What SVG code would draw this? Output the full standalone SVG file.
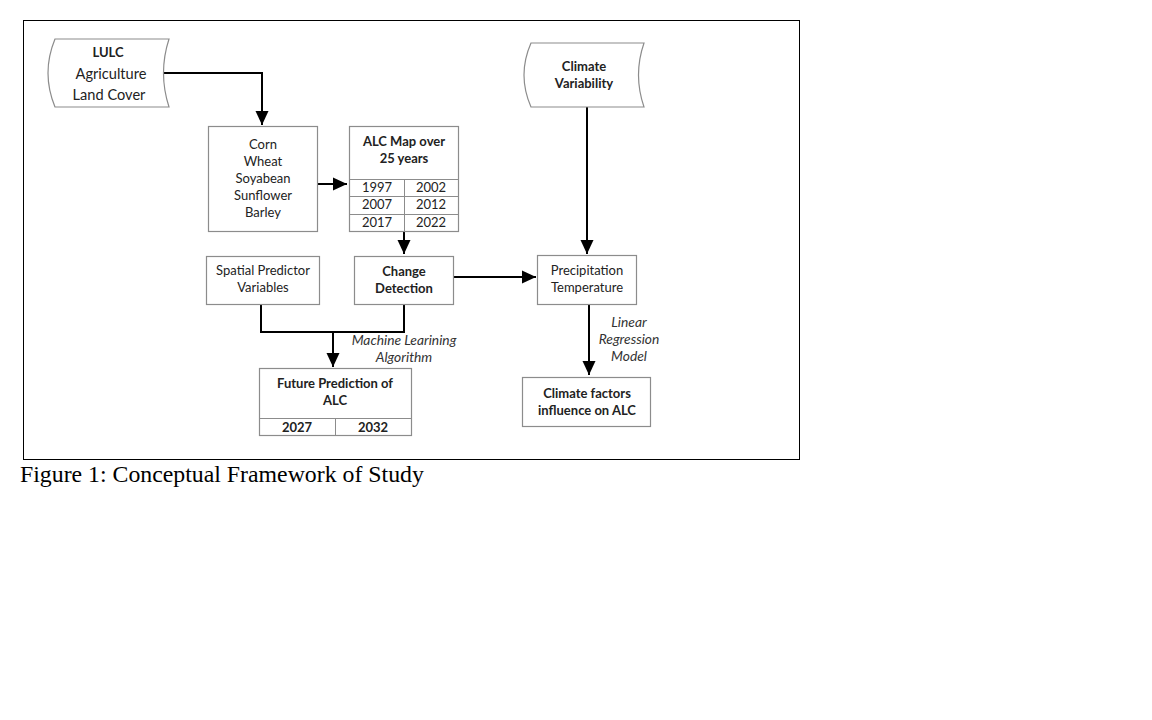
<svg xmlns="http://www.w3.org/2000/svg" width="1152" height="720" viewBox="0 0 1152 720">
<style>
.box{fill:#fff;stroke:#8c8c8c;stroke-width:1.2}
.cell{fill:none;stroke:#8c8c8c;stroke-width:1}
.t{font-family:Lato,"Open Sans",sans-serif;font-size:13px;fill:#222;text-anchor:middle}
.b{font-weight:bold}
.l{font-size:14.6px}
.i{font-style:italic;fill:#333;font-size:13.8px}
.c{fill:none;stroke:#000;stroke-width:2}
</style>
<defs>
<marker id="ah" markerUnits="userSpaceOnUse" markerWidth="16" markerHeight="16" viewBox="0 0 16 16" refX="14" refY="8" orient="auto">
<path d="M0,1.5 L14,8 L0,14.5 Z" fill="#000"/>
</marker>
</defs>
<rect width="1152" height="720" fill="#fff"/>
<rect x="23.5" y="20.5" width="776" height="439" fill="none" stroke="#000" stroke-width="1"/>

<g id="connectors">
<path class="c" d="M162,73 H262 V125" marker-end="url(#ah)"/>
<path class="c" d="M315,184 H347" marker-end="url(#ah)"/>
<path class="c" d="M404,231 V254" marker-end="url(#ah)"/>
<path class="c" d="M261,304 V332 H404 V304"/>
<path class="c" d="M333,332 V367" marker-end="url(#ah)"/>
<path class="c" d="M453,277 H536" marker-end="url(#ah)"/>
<path class="c" d="M587,107 V254" marker-end="url(#ah)"/>
<path class="c" d="M589,304 V375" marker-end="url(#ah)"/>
<text class="t i" x="404" y="345">Machine Learining</text>
<text class="t i" x="404" y="362">Algorithm</text>
<text class="t i" x="629" y="327">Linear</text>
<text class="t i" x="629" y="344">Regression</text>
<text class="t i" x="629" y="361">Model</text>
</g>

<g id="lulc">
<path class="box" d="M55,39 H169 Q158,73 169,107 H55 Q41,73 55,39 Z"/>
<text class="t b" x="108" y="57">LULC</text>
<text class="t l" x="111" y="79">Agriculture</text>
<text class="t l" x="109" y="100">Land Cover</text>
</g>

<g id="crops">
<rect class="box" x="208.5" y="126.5" width="109" height="105"/>
<text class="t" x="263" y="149">Corn</text>
<text class="t" x="263" y="166">Wheat</text>
<text class="t" x="263" y="183">Soyabean</text>
<text class="t" x="263" y="200">Sunflower</text>
<text class="t" x="263" y="217">Barley</text>
</g>

<g id="alcmap">
<rect class="box" x="349.5" y="126.5" width="109" height="105"/>
<path class="cell" d="M349.5,179.5 H458.5 M349.5,196.5 H458.5 M349.5,214.5 H458.5 M404.5,179.5 V231.5"/>
<text class="t b" x="404" y="146">ALC Map over</text>
<text class="t b" x="404" y="163">25 years</text>
<text class="t" x="377" y="192">1997</text>
<text class="t" x="431" y="192">2002</text>
<text class="t" x="377" y="209">2007</text>
<text class="t" x="431" y="209">2012</text>
<text class="t" x="377" y="227">2017</text>
<text class="t" x="431" y="227">2022</text>
</g>

<g id="spatial">
<rect class="box" x="206.5" y="256.5" width="113" height="48"/>
<text class="t" x="263" y="275">Spatial Predictor</text>
<text class="t" x="263" y="292">Variables</text>
</g>

<g id="change">
<rect class="box" x="354.5" y="256.5" width="99" height="48"/>
<text class="t b" x="404" y="276">Change</text>
<text class="t b" x="404" y="293">Detection</text>
</g>

<g id="future">
<rect class="box" x="259.5" y="368.5" width="152" height="67"/>
<path class="cell" d="M259.5,418.5 H411.5 M335.5,418.5 V435.5"/>
<text class="t b" x="335" y="388">Future Prediction of</text>
<text class="t b" x="335" y="405">ALC</text>
<text class="t b" x="297" y="432">2027</text>
<text class="t b" x="373" y="432">2032</text>
</g>

<g id="climate">
<path class="box" d="M531,43 H644 Q633,75 644,107 H531 Q517,75 531,43 Z"/>
<text class="t b" x="584" y="71">Climate</text>
<text class="t b" x="584" y="88">Variability</text>
</g>

<g id="precip">
<rect class="box" x="537.5" y="255.5" width="99" height="49"/>
<text class="t" x="587" y="275">Precipitation</text>
<text class="t" x="587" y="292">Temperature</text>
</g>

<g id="factors">
<rect class="box" x="522.5" y="377.5" width="128" height="49"/>
<text class="t b" x="587" y="398">Climate factors</text>
<text class="t b" x="587" y="415">influence on ALC</text>
</g>

<text x="20" y="482" font-family="Liberation Serif,serif" font-size="23.8" fill="#000">Figure 1: Conceptual Framework of Study</text>
</svg>
